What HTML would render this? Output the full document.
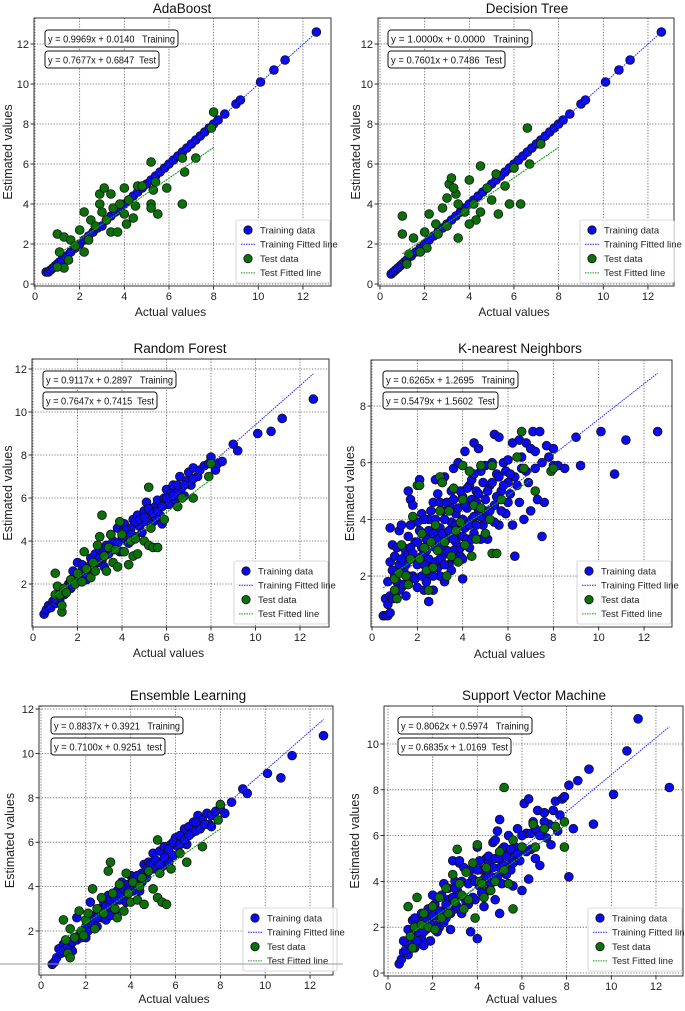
<!DOCTYPE html>
<html><head><meta charset="utf-8"><style>
html,body{margin:0;padding:0;background:#fff;}
svg{display:block;font-family:"Liberation Sans","DejaVu Sans",sans-serif;}
</style></head><body>
<svg id="fig" width="685" height="1011" viewBox="0 0 685 1011"></svg>
<script>
const NS='http://www.w3.org/2000/svg';
const titles=['AdaBoost','Decision Tree','Random Forest','K-nearest Neighbors','Ensemble Learning','Support Vector Machine'];
const trainEq=['y = 0.9969x + 0.0140   Training','y = 1.0000x + 0.0000   Training','y = 0.9117x + 0.2897   Training','y = 0.6265x + 1.2695   Training','y = 0.8837x + 0.3921   Training','y = 0.8062x + 0.5974   Training'];
const testEq=['y = 0.7677x + 0.6847  Test','y = 0.7601x + 0.7486  Test','y = 0.7647x + 0.7415  Test','y = 0.5479x + 1.5602  Test','y = 0.7100x + 0.9251  test','y = 0.6835x + 1.0169  Test'];
const trainSlope=[0.9969,1.0,0.9117,0.6265,0.8837,0.8062];
const trainIntercept=[0.0140,0.0,0.2897,1.2695,0.3921,0.5974];
const testSlope=[0.7677,0.7601,0.7647,0.5479,0.7100,0.6835];
const testIntercept=[0.6847,0.7486,0.7415,1.5602,0.9251,1.0169];
const trainXRange=[[0.5,12.6],[0.5,12.6],[0.5,12.6],[0.5,12.6],[0.5,12.6],[0.5,12.6]];
const testXRange=[[1.0,8.0],[1.0,8.0],[1.0,8.0],[1.0,7.0],[1.0,8.0],[1.0,7.9]];
const xTicks=[0,2,4,6,8,10,12];
const yTicks=[[0,2,4,6,8,10,12],[0,2,4,6,8,10,12],[2,4,6,8,10,12],[2,4,6,8],[2,4,6,8,10,12],[0,2,4,6,8,10]];
const adaTrain=[[0.5,0.6],[0.6,0.6],[0.7,0.7],[0.8,0.8],[0.9,0.9],[1.0,1.0],[1.1,1.1],[1.2,1.2],[1.4,1.4],[1.6,1.6],[1.8,1.8],[2.0,2.0],[2.2,2.2],[2.4,2.4],[2.6,2.6],[2.8,2.8],[3.0,2.9],[3.2,3.2],[3.4,3.4],[3.6,3.6],[3.8,3.8],[4.0,4.0],[4.2,4.2],[4.4,4.4],[4.6,4.6],[4.8,4.8],[5.0,5.0],[5.2,5.2],[5.4,5.4],[5.6,5.6],[5.8,5.8],[6.0,6.0],[6.2,6.2],[6.4,6.4],[6.6,6.6],[6.8,6.8],[7.0,7.0],[7.2,7.2],[7.4,7.4],[7.6,7.6],[7.8,7.8],[8.0,8.0],[8.2,8.2],[8.5,8.5],[9.0,9.0],[9.2,9.2],[10.1,10.1],[10.7,10.7],[11.2,11.2],[12.6,12.6]];
const adaTest=[[1.0,2.5],[1.3,2.35],[1.1,1.6],[1.3,0.8],[1.0,0.85],[1.6,2.2],[1.8,1.9],[2.0,2.7],[2.2,3.6],[2.2,1.6],[2.5,3.2],[2.7,2.9],[2.9,4.5],[2.9,4.0],[3.1,4.8],[3.0,3.6],[3.2,3.2],[3.4,4.5],[3.4,2.6],[3.5,3.8],[3.7,2.6],[3.8,4.0],[4.0,4.8],[4.0,3.5],[4.1,3.0],[4.2,4.2],[4.4,3.3],[4.5,3.9],[4.6,4.9],[4.8,4.9],[5.2,4.0],[5.2,6.1],[5.2,3.8],[5.3,4.7],[5.4,5.1],[5.5,3.5],[5.9,4.8],[6.6,6.3],[6.6,4.0],[6.7,5.6],[7.2,6.3],[7.9,7.8],[8.0,8.6],[1.5,1.2],[2.4,2.2]];
const dtTrain=[[0.5,0.5],[0.6,0.6],[0.7,0.7],[0.8,0.8],[0.9,0.9],[1.0,1.0],[1.1,1.1],[1.2,1.2],[1.4,1.4],[1.6,1.6],[1.8,1.8],[2.0,2.0],[2.2,2.2],[2.4,2.4],[2.6,2.6],[2.8,2.8],[3.0,3.0],[3.2,3.2],[3.4,3.4],[3.6,3.6],[3.8,3.8],[4.0,4.0],[4.2,4.2],[4.4,4.4],[4.6,4.6],[4.8,4.8],[5.0,5.0],[5.2,5.2],[5.4,5.4],[5.6,5.6],[5.8,5.8],[6.0,6.0],[6.2,6.2],[6.4,6.4],[6.6,6.6],[6.8,6.8],[7.0,7.0],[7.2,7.2],[7.4,7.4],[7.6,7.6],[7.8,7.8],[8.0,8.0],[8.2,8.2],[8.5,8.5],[9.0,9.0],[9.2,9.2],[10.1,10.1],[10.7,10.7],[11.2,11.2],[12.6,12.6]];
const dtTest=[[1.0,3.4],[1.0,2.5],[1.3,1.5],[1.5,2.3],[2.0,2.6],[2.1,1.8],[2.2,3.5],[2.5,3.0],[2.8,3.8],[3.0,4.3],[3.1,5.0],[3.2,5.3],[3.4,4.5],[3.5,4.0],[3.5,2.3],[3.8,3.6],[4.0,5.2],[4.2,4.0],[4.3,3.2],[4.5,5.9],[4.5,3.6],[4.8,4.8],[5.0,4.2],[5.2,5.5],[5.3,3.5],[5.6,4.9],[6.0,5.8],[6.3,4.0],[6.6,7.8],[6.7,6.0],[7.2,7.0],[3.3,4.8],[2.6,2.5],[1.8,1.6],[1.2,1.0],[4.0,3.0],[5.8,4.0],[3.0,2.9]];
const rfTrain=[[0.5,0.6],[0.6,0.8],[0.7,1.0],[0.8,0.9],[0.9,1.2],[1.0,1.1],[1.1,1.4],[1.2,1.2],[1.3,1.6],[1.5,1.7],[1.6,2.0],[1.7,1.8],[1.8,2.6],[1.9,2.1],[2.0,3.0],[2.1,2.4],[2.2,2.9],[2.3,2.5],[2.5,2.8],[2.6,3.2],[2.7,2.7],[2.8,3.4],[2.9,3.0],[3.0,3.6],[3.1,3.1],[3.3,3.8],[3.4,3.4],[3.5,4.3],[3.6,3.6],[3.7,3.9],[3.8,4.6],[3.9,3.5],[4.0,4.1],[4.1,4.8],[4.2,4.2],[4.3,3.9],[4.4,4.6],[4.5,5.0],[4.6,4.2],[4.7,5.2],[4.8,4.7],[5.0,5.4],[5.0,4.9],[5.1,5.8],[5.2,5.1],[5.3,5.5],[5.4,4.9],[5.5,5.6],[5.6,5.9],[5.7,5.2],[5.8,4.8],[5.9,6.0],[6.0,6.4],[6.1,5.7],[6.2,6.2],[6.3,6.6],[6.4,5.9],[6.5,6.3],[6.6,7.0],[6.7,6.5],[6.8,6.1],[6.9,6.8],[7.0,7.2],[7.1,6.6],[7.2,7.4],[7.4,7.0],[7.5,7.3],[7.7,7.5],[7.9,7.6],[8.0,7.9],[8.2,7.3],[8.3,7.6],[8.5,7.7],[9.0,8.5],[9.2,8.2],[10.1,9.0],[10.7,9.1],[11.2,9.7],[12.6,10.6],[3.2,2.8],[4.0,3.5],[4.9,4.4],[2.4,2.2],[5.5,5.1],[1.0,1.3],[1.2,1.4],[1.4,1.5],[1.7,2.0],[2.0,2.2],[2.2,2.6],[2.4,2.5],[2.6,2.9],[2.8,3.0],[3.0,3.2],[3.2,3.5],[3.4,3.7],[3.6,4.0],[3.8,3.9],[4.0,4.4],[4.2,4.5],[4.4,4.3],[4.6,4.9],[4.8,5.0],[5.0,5.1],[5.2,5.5],[5.4,5.3],[5.6,5.4],[5.8,5.6],[6.0,6.0],[6.3,6.1],[6.5,6.6],[6.8,6.6],[7.2,6.9]];
const rfTest=[[1.0,2.5],[1.0,1.5],[1.1,1.9],[1.2,1.5],[1.3,0.7],[1.3,1.0],[1.4,1.8],[1.5,1.6],[1.7,2.2],[1.9,2.0],[2.0,2.5],[2.2,2.1],[2.3,3.5],[2.4,2.7],[2.6,2.3],[2.7,3.0],[2.9,3.8],[3.0,4.2],[3.1,5.2],[3.2,3.3],[3.3,2.6],[3.4,3.7],[3.5,4.3],[3.6,3.0],[3.7,3.6],[3.8,2.8],[3.9,4.9],[4.0,4.3],[4.1,3.5],[4.3,2.9],[4.4,4.0],[4.5,3.3],[4.7,3.4],[5.0,4.0],[5.2,3.8],[5.2,6.5],[5.3,4.6],[5.4,3.7],[5.6,3.7],[5.9,5.0],[6.5,5.6],[6.7,6.0],[7.2,6.0],[7.9,7.0],[8.0,7.6],[4.6,4.1],[2.8,2.6]];
const knnTrain=[[0.5,0.6],[0.6,0.6],[0.7,0.6],[0.8,0.7],[0.6,1.2],[0.7,1.0],[0.8,1.3],[0.9,1.2],[0.7,1.8],[0.8,2.5],[0.9,2.2],[0.9,3.1],[0.8,3.7],[1.0,2.7],[1.1,3.0],[1.2,3.6],[1.3,3.8],[1.1,1.8],[1.2,2.4],[1.3,1.6],[1.4,2.2],[1.5,2.8],[1.5,1.3],[1.6,3.4],[1.6,5.0],[1.7,4.7],[1.8,4.5],[1.8,2.0],[1.9,3.2],[2.0,3.9],[2.0,1.6],[2.1,5.4],[2.1,2.6],[2.2,4.2],[2.3,3.5],[2.3,1.5],[2.4,2.9],[2.5,4.0],[2.5,1.1],[2.6,2.3],[2.6,3.3],[2.7,4.6],[2.7,1.5],[2.8,5.4],[2.8,3.0],[2.9,4.9],[2.9,2.3],[3.0,3.7],[3.1,4.3],[3.1,2.7],[3.2,5.5],[3.2,1.8],[3.3,3.3],[3.4,4.5],[3.4,2.4],[3.5,3.9],[3.5,5.0],[3.6,2.9],[3.6,5.8],[3.7,4.2],[3.8,3.4],[3.8,6.0],[3.9,2.7],[4.0,4.8],[4.0,1.9],[4.1,3.7],[4.1,6.4],[4.2,4.4],[4.3,3.0],[4.3,5.2],[4.4,4.0],[4.5,6.7],[4.5,3.5],[4.6,5.0],[4.7,4.3],[4.7,6.5],[4.8,5.7],[4.9,3.8],[5.0,4.7],[5.0,5.9],[5.1,3.3],[5.2,5.2],[5.3,6.0],[5.4,4.5],[5.4,7.0],[5.5,5.6],[5.6,6.9],[5.6,3.8],[5.7,5.0],[5.8,6.0],[5.9,4.2],[6.0,5.3],[6.0,6.1],[6.1,4.9],[6.2,3.8],[6.2,6.7],[6.3,2.7],[6.3,5.5],[6.5,6.8],[6.5,4.6],[6.6,5.8],[6.7,4.0],[6.8,6.7],[6.9,5.3],[7.0,6.5],[7.0,4.3],[7.1,7.1],[7.2,5.8],[7.3,4.7],[7.4,7.1],[7.5,3.4],[7.5,6.0],[7.6,4.6],[7.7,6.6],[7.8,6.2],[8.0,6.5],[8.0,5.9],[8.2,5.9],[8.5,5.8],[9.0,6.9],[9.2,5.9],[10.1,7.1],[10.7,5.6],[11.2,6.8],[12.6,7.1],[4.0,3.4],[3.0,2.0],[2.2,3.0],[5.0,4.0],[4.4,5.4],[3.7,3.2],[2.5,2.0],[1.9,2.6],[1.4,3.0],[1.0,2.0],[1.2,1.5],[1.4,1.7],[1.5,2.4],[1.6,2.0],[1.7,3.0],[1.8,2.8],[1.9,1.9],[2.0,2.4],[2.0,3.2],[2.1,3.6],[2.2,2.0],[2.2,2.7],[2.3,4.0],[2.4,3.3],[2.4,1.8],[2.5,2.6],[2.5,3.6],[2.6,4.3],[2.7,2.0],[2.7,3.5],[2.8,2.5],[2.8,4.0],[2.9,3.3],[3.0,2.6],[3.0,4.6],[3.1,3.5],[3.2,2.4],[3.2,4.0],[3.3,4.6],[3.3,2.9],[3.4,3.6],[3.5,2.2],[3.5,4.4],[3.6,3.3],[3.6,4.7],[3.7,2.6],[3.7,3.8],[3.8,4.4],[3.9,3.0],[3.9,5.0],[4.0,4.0],[4.0,2.6],[4.1,4.5],[4.2,3.3],[4.2,5.1],[4.3,3.8],[4.4,4.7],[4.4,3.3],[4.5,4.1],[4.5,5.6],[4.6,3.8],[4.7,4.9],[4.8,4.1],[4.8,3.3],[4.9,5.3],[5.0,4.3],[5.1,5.0],[5.2,4.3],[5.3,5.3],[5.4,3.9],[5.5,4.8],[5.6,5.5],[5.7,4.3],[5.8,5.2],[5.9,5.7],[6.0,4.6],[6.1,5.6],[6.4,5.2],[6.6,6.2],[6.8,5.7],[7.2,6.4],[1.3,2.6],[1.7,3.8],[2.3,2.4],[3.1,3.1],[4.6,4.6]];
const knnTest=[[1.0,1.5],[1.0,1.9],[1.1,1.2],[1.2,2.1],[1.3,3.1],[1.5,2.0],[1.6,1.7],[1.7,2.6],[1.8,4.1],[2.0,5.2],[2.1,5.2],[2.2,3.5],[2.3,3.0],[2.4,2.2],[2.5,1.5],[2.6,3.2],[2.7,2.3],[2.8,3.8],[2.9,2.9],[3.0,5.5],[3.0,4.3],[3.1,5.3],[3.2,3.2],[3.3,2.0],[3.4,4.3],[3.5,2.7],[3.6,5.1],[3.7,3.6],[3.8,2.5],[4.0,4.7],[4.0,5.9],[4.1,3.1],[4.3,5.7],[4.4,2.7],[4.5,4.5],[4.6,3.3],[4.8,5.9],[5.0,3.5],[5.2,4.0],[5.3,5.9],[5.3,2.8],[5.5,2.8],[5.7,4.7],[6.4,6.2],[6.6,7.1],[6.7,5.8],[7.2,5.0],[7.9,5.7],[8.0,5.8],[3.9,3.9],[4.8,4.4],[2.1,2.6]];
const ensTrain=[[0.5,0.5],[0.6,0.6],[0.7,0.8],[0.8,1.2],[0.9,1.0],[1.0,1.4],[1.1,1.2],[1.2,1.5],[1.3,1.3],[1.5,1.7],[1.6,2.6],[1.7,1.8],[1.8,2.0],[2.0,2.2],[2.0,1.7],[2.2,3.3],[2.3,2.3],[2.4,2.7],[2.5,2.2],[2.6,3.0],[2.7,2.6],[2.8,3.3],[3.0,3.0],[3.0,3.6],[3.2,3.2],[3.3,2.9],[3.4,3.8],[3.5,3.4],[3.6,4.2],[3.7,3.6],[3.8,3.3],[3.9,4.1],[4.0,4.5],[4.1,3.8],[4.2,4.3],[4.3,4.0],[4.5,4.6],[4.6,5.0],[4.7,4.4],[4.8,5.1],[5.0,4.8],[5.0,5.5],[5.2,5.1],[5.3,5.6],[5.4,4.9],[5.5,5.8],[5.6,5.4],[5.8,5.9],[5.9,5.4],[6.0,6.2],[6.1,5.8],[6.3,6.2],[6.4,6.6],[6.5,5.9],[6.6,6.7],[6.7,6.4],[6.8,6.9],[6.9,6.5],[7.0,7.2],[7.1,6.6],[7.2,7.0],[7.4,7.3],[7.5,6.8],[7.6,7.2],[7.8,7.4],[8.0,7.5],[8.2,7.3],[8.5,7.8],[9.0,8.4],[9.2,8.2],[10.1,9.1],[10.7,8.9],[11.2,9.9],[12.6,10.8],[2.9,2.5],[4.4,3.8],[5.7,5.1],[3.1,2.7],[1.4,1.1],[6.2,6.3],[1.0,1.1],[1.2,1.3],[1.4,1.5],[1.6,1.6],[1.8,1.7],[2.1,2.0],[2.3,2.6],[2.5,2.6],[2.7,2.9],[2.9,3.1],[3.1,3.4],[3.3,3.5],[3.5,3.7],[3.7,3.9],[3.9,3.8],[4.1,4.3],[4.3,4.5],[4.5,4.2],[4.7,4.8],[4.9,5.0],[5.1,5.2],[5.3,5.0],[5.5,5.3],[5.7,5.7],[5.9,6.0],[6.2,5.9],[6.4,6.1],[6.6,6.3],[6.9,6.9],[7.3,6.8],[7.6,6.7]];
const ensTest=[[1.0,2.5],[1.1,1.6],[1.2,1.0],[1.3,0.8],[1.3,2.1],[1.5,1.7],[1.7,2.9],[1.8,2.0],[2.0,2.5],[2.1,2.8],[2.3,3.9],[2.5,3.0],[2.7,3.5],[2.8,2.8],[3.0,4.7],[3.1,5.1],[3.2,3.7],[3.3,3.0],[3.4,2.6],[3.5,4.1],[3.7,2.9],[3.8,4.6],[3.9,3.7],[4.0,3.3],[4.1,4.2],[4.3,3.4],[4.4,4.0],[4.6,3.2],[4.8,4.7],[5.0,3.9],[5.2,6.1],[5.2,3.5],[5.3,4.6],[5.4,3.3],[5.6,3.2],[5.8,4.8],[6.2,5.5],[6.5,5.1],[7.2,5.8],[7.9,7.0],[8.0,7.7],[4.5,4.4],[2.4,2.1],[1.9,1.8]];
const svmTrain=[[0.5,0.4],[0.6,0.6],[0.7,0.9],[0.8,1.3],[0.9,0.8],[0.9,1.9],[1.0,1.5],[1.1,2.3],[1.2,1.1],[1.3,1.8],[1.4,2.2],[1.5,1.5],[1.6,2.6],[1.7,1.9],[1.8,2.3],[1.9,1.4],[2.0,2.9],[2.1,2.1],[2.2,3.3],[2.3,2.0],[2.4,2.7],[2.5,3.9],[2.6,2.4],[2.7,3.2],[2.8,1.9],[2.9,4.9],[3.0,2.8],[3.1,3.6],[3.2,4.8],[3.3,2.6],[3.4,3.3],[3.5,4.5],[3.6,3.0],[3.7,1.8],[3.8,4.1],[3.9,3.2],[4.0,5.5],[4.0,1.5],[4.1,3.8],[4.2,4.5],[4.3,2.9],[4.4,5.0],[4.5,3.6],[4.6,4.2],[4.7,5.7],[4.8,3.2],[4.9,6.2],[5.0,4.6],[5.0,2.6],[5.1,3.9],[5.2,5.5],[5.3,4.3],[5.4,6.0],[5.5,5.0],[5.6,3.8],[5.7,5.5],[5.8,6.3],[5.9,4.9],[6.0,5.5],[6.0,3.6],[6.1,7.4],[6.2,6.1],[6.3,4.1],[6.3,7.6],[6.4,5.4],[6.5,6.6],[6.6,5.0],[6.7,7.1],[6.8,4.7],[6.9,6.2],[7.0,7.0],[7.1,5.9],[7.2,6.5],[7.3,5.6],[7.4,7.1],[7.5,7.5],[7.6,6.2],[7.7,6.9],[7.8,7.6],[7.9,7.7],[8.1,8.2],[8.1,4.2],[8.3,6.3],[8.5,8.4],[9.0,8.9],[9.2,6.5],[10.1,7.8],[10.7,9.7],[11.2,11.1],[12.6,8.1],[3.0,4.0],[2.2,2.5],[4.5,4.8],[5.5,4.5],[1.6,1.2],[0.7,1.4],[0.8,1.0],[1.0,1.2],[1.1,1.7],[1.2,2.4],[1.3,1.4],[1.4,1.8],[1.5,2.6],[1.6,1.8],[1.7,2.3],[1.8,2.8],[1.9,2.1],[2.0,2.5],[2.1,3.0],[2.2,1.8],[2.3,2.7],[2.4,3.4],[2.5,2.2],[2.6,3.0],[2.7,3.7],[2.8,2.6],[2.9,3.3],[3.0,3.7],[3.1,2.9],[3.2,3.4],[3.3,4.0],[3.4,4.6],[3.5,3.1],[3.6,3.9],[3.7,4.5],[3.8,3.3],[3.9,4.0],[4.0,4.5],[4.1,4.9],[4.2,3.5],[4.3,4.1],[4.4,4.5],[4.5,5.1],[4.6,3.9],[4.7,4.6],[4.8,5.0],[4.9,4.2],[5.0,5.0],[5.1,5.4],[5.2,4.7],[5.3,5.1],[5.5,5.4],[5.6,4.8],[5.8,5.2],[6.0,6.0],[6.2,5.3],[6.4,6.1],[6.6,6.3],[6.8,6.0],[7.0,6.6],[3.2,4.9],[4.8,5.8],[5.0,6.7],[2.0,3.4]];
const svmTest=[[0.9,2.9],[1.0,1.6],[1.1,1.1],[1.2,2.0],[1.3,3.3],[1.5,2.1],[1.6,2.6],[1.8,2.0],[2.0,2.9],[2.1,1.9],[2.3,3.3],[2.4,2.4],[2.6,3.7],[2.7,2.6],[2.9,4.3],[3.0,3.1],[3.1,5.4],[3.2,3.9],[3.4,2.8],[3.5,4.4],[3.6,3.2],[3.8,4.8],[3.9,2.4],[4.0,5.6],[4.1,4.0],[4.3,3.3],[4.4,4.6],[4.6,3.6],[4.8,4.0],[5.0,5.3],[5.2,8.1],[5.2,4.5],[5.4,3.9],[5.6,5.8],[5.6,2.8],[6.0,5.5],[6.5,6.5],[6.6,5.5],[7.0,6.3],[7.5,6.4],[7.9,6.6],[7.9,5.5],[4.2,3.9],[3.3,3.4]];
const trainData=[adaTrain,dtTrain,rfTrain,knnTrain,ensTrain,svmTrain];
const testData=[adaTest,dtTest,rfTest,knnTest,ensTest,svmTest];

// layout (pixel geometry, not data)
const layout=[
 {box:[34,18,331,286],x0:35,xs:22.33,y0:284,ys:20,title:[182,13],xl:316,yl:8,eq:[45,30,133,114],leg:[236,220]},
 {box:[378,18,674,286],x0:380,xs:22.33,y0:284,ys:20,title:[527,13],xl:316,yl:356,eq:[388,30,144,117],leg:[580,220]},
 {box:[32,359,329,627],x0:33,xs:22.25,y0:627,ys:21.5,title:[180,353],xl:657,yl:8,eq:[43,371,133,114],leg:[234,561]},
 {box:[371,360,672,627],x0:372,xs:22.67,y0:632.7,ys:28.33,title:[520,353],xl:658,yl:350,eq:[383,371,135,115],leg:[577,561]},
 {box:[39,706,333,975],x0:41,xs:22.42,y0:975.4,ys:22.2,title:[188,700],xl:1003,yl:10,eq:[51,717,132,114],leg:[243,908]},
 {box:[384,706,683,976],x0:388,xs:22.33,y0:973,ys:22.9,title:[534,700],xl:1003,yl:355,eq:[398,717,134,113],leg:[588,908]}
];
const names=['adaboost','decision-tree','random-forest','knn','ensemble','svm'];
const svg=document.getElementById('fig');
function mk(tag,attrs,parent){const e=document.createElementNS(NS,tag);for(const k in attrs)e.setAttribute(k,attrs[k]);(parent||svg).appendChild(e);return e;}
function txt(s,attrs,parent){const e=mk('text',attrs,parent);e.textContent=s;return e;}

layout.forEach((L,i)=>{
 const g=mk('g',{});
 
 
 const [l,t,r,b]=L.box;
 const X=v=>L.x0+v*L.xs, Y=v=>L.y0-v*L.ys;
 const cp='clip'+i;
 const cpe=mk('clipPath',{id:cp},g);mk('rect',{x:l,y:t,width:r-l,height:b-t},cpe);
 xTicks.forEach(v=>{const x=X(v);
  const gl=mk('line',{x1:x,y1:t,x2:x,y2:b,stroke:'#555','stroke-width':0.8,'stroke-dasharray':'1.2,1.6'},g);
  
  
  mk('line',{x1:x,y1:b,x2:x,y2:b+3.5,stroke:'#000','stroke-width':0.8},g);
  const tl=txt(String(v),{x:x,y:b+14,'font-size':11,'text-anchor':'middle',fill:'#222'},g);
  
  
 });
 yTicks[i].forEach(v=>{const y=Y(v);
  const gl=mk('line',{x1:l,y1:y,x2:r,y2:y,stroke:'#555','stroke-width':0.8,'stroke-dasharray':'1.2,1.6'},g);
  
  
  mk('line',{x1:l-3.5,y1:y,x2:l,y2:y,stroke:'#000','stroke-width':0.8},g);
  const tl=txt(String(v),{x:l-5,y:y+4,'font-size':11,'text-anchor':'end',fill:'#222'},g);
  
  
 });
 const pg=mk('g',{'clip-path':'url(#'+cp+')'},g);
 trainData[i].forEach(p=>{
  const c=mk('circle',{cx:X(p[0]),cy:Y(p[1]),r:4.4,fill:'#0a0af0',stroke:'#111','stroke-width':0.8},pg);
  
  
 });
 const tr=trainXRange[i];
 const tline=mk('line',{x1:X(tr[0]),y1:Y(trainSlope[i]*tr[0]+trainIntercept[i]),x2:X(tr[1]),y2:Y(trainSlope[i]*tr[1]+trainIntercept[i]),stroke:'#2020ff','stroke-width':1,'stroke-dasharray':'1.5,1'},pg);
 
 
 testData[i].forEach(p=>{
  const c=mk('circle',{cx:X(p[0]),cy:Y(p[1]),r:4.4,fill:'#0a700a',stroke:'#111','stroke-width':0.8},pg);
  
  
 });
 const te=testXRange[i];
 const sline=mk('line',{x1:X(te[0]),y1:Y(testSlope[i]*te[0]+testIntercept[i]),x2:X(te[1]),y2:Y(testSlope[i]*te[1]+testIntercept[i]),stroke:'#1a9a1a','stroke-width':1.1,'stroke-dasharray':'2,0.8'},pg);
 
 
 mk('rect',{x:l,y:t,width:r-l,height:b-t,fill:'none',stroke:'#333','stroke-width':1},g);
 const ti=txt(titles[i],{x:L.title[0],y:L.title[1],'font-size':13.5,'text-anchor':'middle',fill:'#111'},g);
 
 
 const xl=txt('Actual values',{x:(l+r)/2-12,y:L.xl,'font-size':12,'text-anchor':'middle',fill:'#222'},g);
 
 
 const ym=(t+b)/2;
 const yl=txt('Estimated values',{x:L.yl+4,y:ym,'font-size':12.5,'text-anchor':'middle',fill:'#222',transform:'rotate(-90 '+(L.yl+4)+' '+ym+')'},g);
 
 
 const [ex,ey,ew1,ew2]=L.eq;
 const e1=mk('g',{},g);
 
 
 mk('rect',{x:ex,y:ey,width:ew1,height:17,rx:3,fill:'#fff',stroke:'#111','stroke-width':1},e1);
 const t1=txt(trainEq[i],{x:ex+3,y:ey+12.5,'font-size':10,fill:'#111',textLength:ew1-6,lengthAdjust:'spacingAndGlyphs'},e1);
 t1.style.whiteSpace='pre';
 const e2=mk('g',{},g);
 
 
 mk('rect',{x:ex,y:ey+21,width:ew2,height:17,rx:3,fill:'#fff',stroke:'#111','stroke-width':1},e2);
 const t2=txt(testEq[i],{x:ex+3,y:ey+33.5,'font-size':10,fill:'#111',textLength:ew2-6,lengthAdjust:'spacingAndGlyphs'},e2);
 t2.style.whiteSpace='pre';
 const [lx,ly]=L.leg;
 const lg=mk('g',{},g);
 
 
 mk('rect',{x:lx,y:ly,width:94,height:63,rx:2,fill:'#fff','fill-opacity':0.85,stroke:'#ccc','stroke-width':0.8},lg);
 const items=[['Training data','bc','#0a0af0'],['Training Fitted line','bl','#2020ff'],['Test data','gc','#0a700a'],['Test Fitted line','gl','#1a9a1a']];
 items.forEach((it,k)=>{
  const yy=ly+10+k*14.3;
  if(it[1][1]==='c') mk('circle',{cx:lx+12,cy:yy,r:4.2,fill:it[2],stroke:'#111','stroke-width':0.8},lg);
  else mk('line',{x1:lx+5,y1:yy,x2:lx+19,y2:yy,stroke:it[2],'stroke-width':1,'stroke-dasharray':'1.5,1'},lg);
  const lt=txt(it[0],{x:lx+24,y:yy+3.3,'font-size':9.5,fill:'#222'},lg);
  
  
 });
});
const hl=mk('line',{x1:0,y1:964,x2:343,y2:964,stroke:'#999','stroke-width':1});


</script>
</body></html>
